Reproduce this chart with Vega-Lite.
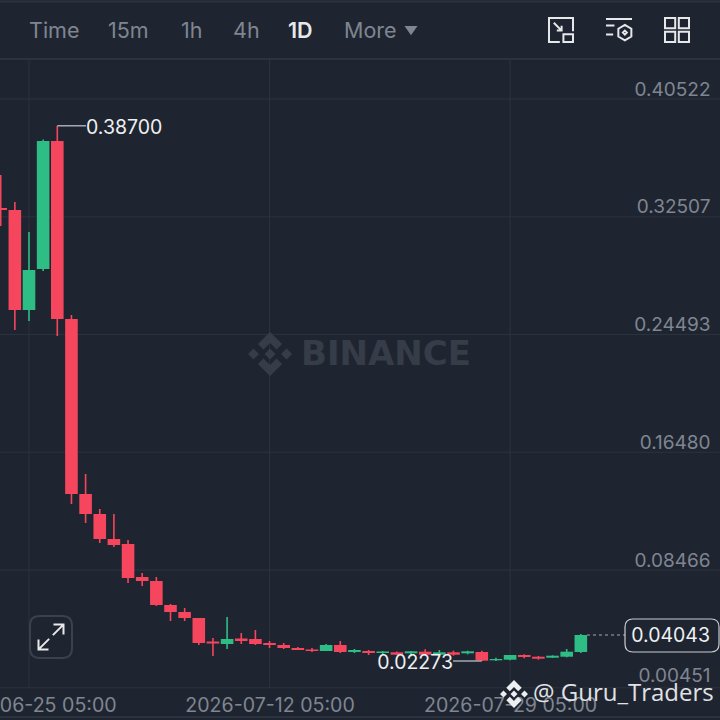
{
  "$schema": "https://vega.github.io/schema/vega-lite/v6.json",
  "width": 720,
  "height": 720,
  "autosize": {"type": "none"},
  "padding": 0,
  "background": "#1f2530",
  "view": {"stroke": null},
  "config": {"text": {"font": "Inter"}, "axis": {"labelFont": "Inter"}},
  "layer": [
    {
      "data": {"values": [{"price": 0.40522}, {"price": 0.32507}, {"price": 0.24493}, {"price": 0.1648}, {"price": 0.08466}, {"price": 0.00451}]},
      "mark": {"type": "rule", "color": "#2c323e", "strokeWidth": 1},
      "encoding": {
        "y": {
          "field": "price",
          "type": "quantitative",
          "scale": {"domain": [-0.01742, 0.4726], "nice": false, "zero": false},
          "axis": {
            "orient": "right",
            "title": null,
            "values": [0.40522, 0.32507, 0.24493, 0.1648, 0.08466, 0.00451],
            "format": ".5f",
            "grid": false,
            "domain": false,
            "ticks": false,
            "labelAlign": "right",
            "labelBaseline": "middle",
            "labelPadding": -10,
            "labelOffset": {"expr": "datum.value < 0.01 ? -12 : -10"},
            "labelColor": "#7f8691",
            "labelFontSize": 19
          }
        }
      }
    },
    {
      "data": {"values": [{"price": 0.43245}, {"price": 0.47158}, {"price": -0.01539}]},
      "mark": {"type": "rule", "color": "#2c323e", "strokeWidth": 2},
      "encoding": {"y": {"field": "price", "type": "quantitative"}}
    },
    {
      "data": {"values": [{"date": "2026-06-25T05:00:00"}, {"date": "2026-07-12T05:00:00"}, {"date": "2026-07-29T05:00:00"}]},
      "mark": {"type": "rule", "color": "#2c323e", "strokeWidth": 1},
      "encoding": {
        "x": {
          "field": "date",
          "type": "temporal",
          "scale": {"domain": [{"year": 2026, "month": 6, "date": 23, "hours": 3, "minutes": 49}, {"year": 2026, "month": 8, "date": 13, "hours": 1, "minutes": 2}], "nice": false, "padding": 0},
          "axis": {
            "orient": "bottom",
            "title": null,
            "values": [{"year": 2026, "month": 6, "date": 25, "hours": 5}, {"year": 2026, "month": 7, "date": 12, "hours": 5}, {"year": 2026, "month": 7, "date": 29, "hours": 5}],
            "format": "%Y-%m-%d %H:%M",
            "grid": false,
            "domain": false,
            "ticks": false,
            "labelFlush": false,
            "labelOverlap": false,
            "labelBound": false,
            "labelBaseline": "middle",
            "labelPadding": -15,
            "labelColor": "#7f8691",
            "labelFontSize": 19.6
          }
        },
        "y": {"datum": 0.00451, "type": "quantitative"},
        "y2": {"datum": 0.43245}
      }
    },
    {
      "data": {"name": "candles", "values": [
        {"date": "2026-06-23T05:00:00", "dir": "down", "open": 0.33104, "high": 0.3535, "low": 0.31879, "close": 0.32968},
        {"date": "2026-06-24T05:00:00", "dir": "down", "open": 0.32968, "high": 0.33512, "low": 0.24801, "close": 0.26162},
        {"date": "2026-06-25T05:00:00", "dir": "up", "open": 0.26162, "high": 0.3147, "low": 0.25413, "close": 0.28884},
        {"date": "2026-06-26T05:00:00", "dir": "up", "open": 0.28952, "high": 0.37766, "low": 0.28816, "close": 0.37664},
        {"date": "2026-06-27T05:00:00", "dir": "down", "open": 0.37664, "high": 0.387, "low": 0.24392, "close": 0.25549},
        {"date": "2026-06-28T05:00:00", "dir": "down", "open": 0.25549, "high": 0.25821, "low": 0.12958, "close": 0.13639},
        {"date": "2026-06-29T05:00:00", "dir": "down", "open": 0.13639, "high": 0.15, "low": 0.11665, "close": 0.12278},
        {"date": "2026-06-30T05:00:00", "dir": "down", "open": 0.12278, "high": 0.12618, "low": 0.10304, "close": 0.10576},
        {"date": "2026-07-01T05:00:00", "dir": "down", "open": 0.10576, "high": 0.12278, "low": 0.10032, "close": 0.10168},
        {"date": "2026-07-02T05:00:00", "dir": "down", "open": 0.10236, "high": 0.10508, "low": 0.07582, "close": 0.07922},
        {"date": "2026-07-03T05:00:00", "dir": "down", "open": 0.0799, "high": 0.08262, "low": 0.07377, "close": 0.07718},
        {"date": "2026-07-04T05:00:00", "dir": "down", "open": 0.07718, "high": 0.0799, "low": 0.06016, "close": 0.06084},
        {"date": "2026-07-05T05:00:00", "dir": "down", "open": 0.06084, "high": 0.06152, "low": 0.04995, "close": 0.05608},
        {"date": "2026-07-06T05:00:00", "dir": "down", "open": 0.05608, "high": 0.0588, "low": 0.04995, "close": 0.052},
        {"date": "2026-07-07T05:00:00", "dir": "down", "open": 0.052, "high": 0.052, "low": 0.03362, "close": 0.03498},
        {"date": "2026-07-08T05:00:00", "dir": "down", "open": 0.036, "high": 0.03838, "low": 0.02613, "close": 0.03464},
        {"date": "2026-07-09T05:00:00", "dir": "up", "open": 0.0343, "high": 0.05268, "low": 0.0309, "close": 0.0377},
        {"date": "2026-07-10T05:00:00", "dir": "down", "open": 0.03804, "high": 0.04179, "low": 0.0343, "close": 0.03634},
        {"date": "2026-07-11T05:00:00", "dir": "down", "open": 0.0377, "high": 0.04383, "low": 0.03362, "close": 0.0343},
        {"date": "2026-07-12T05:00:00", "dir": "down", "open": 0.03498, "high": 0.03634, "low": 0.03158, "close": 0.03362},
        {"date": "2026-07-13T05:00:00", "dir": "down", "open": 0.03362, "high": 0.03498, "low": 0.0309, "close": 0.03158},
        {"date": "2026-07-14T05:00:00", "dir": "down", "open": 0.03158, "high": 0.03226, "low": 0.03022, "close": 0.03022},
        {"date": "2026-07-15T05:00:00", "dir": "down", "open": 0.03056, "high": 0.03158, "low": 0.02886, "close": 0.02954},
        {"date": "2026-07-16T05:00:00", "dir": "up", "open": 0.02954, "high": 0.0343, "low": 0.02954, "close": 0.03362},
        {"date": "2026-07-17T05:00:00", "dir": "down", "open": 0.03362, "high": 0.03634, "low": 0.02817, "close": 0.02886},
        {"date": "2026-07-18T05:00:00", "dir": "up", "open": 0.02886, "high": 0.0309, "low": 0.02817, "close": 0.03022},
        {"date": "2026-07-19T05:00:00", "dir": "down", "open": 0.02954, "high": 0.03022, "low": 0.02681, "close": 0.02817},
        {"date": "2026-07-20T05:00:00", "dir": "up", "open": 0.02817, "high": 0.02954, "low": 0.02681, "close": 0.0292},
        {"date": "2026-07-21T05:00:00", "dir": "down", "open": 0.02865, "high": 0.0292, "low": 0.02681, "close": 0.02702},
        {"date": "2026-07-22T05:00:00", "dir": "up", "open": 0.02797, "high": 0.02954, "low": 0.02579, "close": 0.02933},
        {"date": "2026-07-23T05:00:00", "dir": "down", "open": 0.02906, "high": 0.03069, "low": 0.02661, "close": 0.02702},
        {"date": "2026-07-24T05:00:00", "dir": "up", "open": 0.02702, "high": 0.03022, "low": 0.02661, "close": 0.02865},
        {"date": "2026-07-25T05:00:00", "dir": "down", "open": 0.02865, "high": 0.02974, "low": 0.02634, "close": 0.02702},
        {"date": "2026-07-26T05:00:00", "dir": "up", "open": 0.02797, "high": 0.02974, "low": 0.02729, "close": 0.02933},
        {"date": "2026-07-27T05:00:00", "dir": "down", "open": 0.02886, "high": 0.02974, "low": 0.02273, "close": 0.02294},
        {"date": "2026-07-28T05:00:00", "dir": "up", "open": 0.02321, "high": 0.02498, "low": 0.02273, "close": 0.02409},
        {"date": "2026-07-29T05:00:00", "dir": "up", "open": 0.02361, "high": 0.02681, "low": 0.02321, "close": 0.02681},
        {"date": "2026-07-30T05:00:00", "dir": "down", "open": 0.02681, "high": 0.02729, "low": 0.02457, "close": 0.02545},
        {"date": "2026-07-31T05:00:00", "dir": "down", "open": 0.02565, "high": 0.02613, "low": 0.02361, "close": 0.0243},
        {"date": "2026-08-01T05:00:00", "dir": "up", "open": 0.02498, "high": 0.02661, "low": 0.02477, "close": 0.02634},
        {"date": "2026-08-02T05:00:00", "dir": "up", "open": 0.02565, "high": 0.0309, "low": 0.02524, "close": 0.02906},
        {"date": "2026-08-03T05:00:00", "dir": "up", "open": 0.02886, "high": 0.04111, "low": 0.02817, "close": 0.04043}
      ]},
      "mark": {"type": "rule", "strokeWidth": 1.6},
      "encoding": {
        "x": {"field": "date", "type": "temporal"},
        "y": {"field": "high", "type": "quantitative"},
        "y2": {"field": "low"},
        "color": {"field": "dir", "type": "nominal", "legend": null, "scale": {"domain": ["up", "down"], "range": ["#2ebd85", "#f6465d"]}}
      }
    },
    {
      "data": {"name": "candles"},
      "mark": {"type": "bar", "size": 12.6},
      "encoding": {
        "x": {"field": "date", "type": "temporal"},
        "y": {"field": "open", "type": "quantitative"},
        "y2": {"field": "close"},
        "color": {"field": "dir", "type": "nominal", "legend": null}
      }
    },
    {
      "data": {"values": [
        {"date": "2026-06-27T05:00:00", "end": "2026-06-29T05:41:00", "price": 0.387},
        {"date": "2026-07-25T04:10:00", "end": "2026-07-27T05:00:00", "price": 0.02273}
      ]},
      "mark": {"type": "rule", "color": "#a3a8b0", "strokeWidth": 1.5},
      "encoding": {
        "x": {"field": "date", "type": "temporal"},
        "x2": {"field": "end"},
        "y": {"field": "price", "type": "quantitative"}
      }
    },
    {
      "data": {"values": [{"date": "2026-08-03T15:28:00", "end": "2026-08-06T07:55:00", "price": 0.04043}]},
      "mark": {"type": "rule", "color": "#a3a8b0", "strokeWidth": 1.2, "strokeDash": [3, 3]},
      "encoding": {
        "x": {"field": "date", "type": "temporal"},
        "x2": {"field": "end"},
        "y": {"field": "price", "type": "quantitative"}
      }
    },
    {
      "data": {"values": [{"date": "2026-06-29T05:41:00", "price": 0.387, "label": "0.38700"}]},
      "mark": {"type": "text", "align": "left", "baseline": "middle", "dy": 2, "fontSize": 19.5, "color": "#eef0f2"},
      "encoding": {
        "x": {"field": "date", "type": "temporal"},
        "y": {"field": "price", "type": "quantitative"},
        "text": {"field": "label"}
      }
    },
    {
      "data": {"values": [{"date": "2026-07-25T04:10:00", "price": 0.02273, "label": "0.02273"}]},
      "mark": {"type": "text", "align": "right", "baseline": "middle", "dy": 2, "fontSize": 19.5, "color": "#eef0f2"},
      "encoding": {
        "x": {"field": "date", "type": "temporal"},
        "y": {"field": "price", "type": "quantitative"},
        "text": {"field": "label"}
      }
    },
    {
      "data": {"values": [{"date": "2026-08-09T15:38:00", "price": 0.0401}]},
      "mark": {"type": "point", "shape": "M-.83,-.351 H.83 Q1,-.351 1,-.181 V.181 Q1,.351 .83,.351 H-.83 Q-1,.351 -1,.181 V-.181 Q-1,-.351 -.83,-.351 Z", "size": 8836, "filled": true, "fill": "#1f2530", "stroke": "#c9ccd1", "strokeWidth": 1.2, "opacity": 1},
      "encoding": {
        "x": {"field": "date", "type": "temporal"},
        "y": {"field": "price", "type": "quantitative"}
      }
    },
    {
      "data": {"values": [{"date": "2026-08-12T08:05:00", "price": 0.0401, "label": "0.04043"}]},
      "mark": {"type": "text", "align": "right", "baseline": "middle", "dy": 1, "fontSize": 19.5, "color": "#eef0f2"},
      "encoding": {
        "x": {"field": "date", "type": "temporal"},
        "y": {"field": "price", "type": "quantitative"},
        "text": {"field": "label"}
      }
    },
    {
      "data": {"values": [
        {"date": "2026-06-25T05:00:00", "price": 0.45218, "label": "Time"},
        {"date": "2026-06-30T19:00:00", "price": 0.45218, "label": "15m"},
        {"date": "2026-07-05T22:49:00", "price": 0.45218, "label": "1h"},
        {"date": "2026-07-09T15:01:00", "price": 0.45218, "label": "4h"},
        {"date": "2026-07-17T11:18:00", "price": 0.45218, "label": "More"}
      ]},
      "mark": {"type": "text", "align": "left", "baseline": "middle", "dy": 2, "fontSize": 21.5, "color": "#7f8691"},
      "encoding": {
        "x": {"field": "date", "type": "temporal"},
        "y": {"field": "price", "type": "quantitative"},
        "text": {"field": "label"}
      }
    },
    {
      "data": {"values": [{"date": "2026-07-13T12:18:00", "price": 0.45218, "label": "1D"}]},
      "mark": {"type": "text", "align": "left", "baseline": "middle", "dy": 2, "fontSize": 21.5, "fontWeight": 600, "color": "#e6e8ea"},
      "encoding": {
        "x": {"field": "date", "type": "temporal"},
        "y": {"field": "price", "type": "quantitative"},
        "text": {"field": "label"}
      }
    },
    {
      "data": {"values": [{"date": "2026-07-22T04:56:00", "price": 0.45218}]},
      "mark": {"type": "point", "shape": "M-1,-.6 H1 L0,.8 Z", "size": 169, "filled": true, "color": "#7f8691", "opacity": 1},
      "encoding": {
        "x": {"field": "date", "type": "temporal"},
        "y": {"field": "price", "type": "quantitative"}
      }
    },
    {
      "data": {"values": [{"date": "2026-08-01T19:22:00", "price": 0.45218}]},
      "mark": {"type": "point", "shape": "M-.1,1 H-1 V-1 H1 V.1 M.2,.35 H1 V1 H.2 Z M-.6,-.6 L.05,.05 M.05,-.35 V.05 H-.35", "size": 576, "filled": false, "stroke": "#e6e8ea", "strokeWidth": 2, "opacity": 1},
      "encoding": {
        "x": {"field": "date", "type": "temporal"},
        "y": {"field": "price", "type": "quantitative"}
      }
    },
    {
      "data": {"values": [{"date": "2026-08-05T21:44:00", "price": 0.45218}]},
      "mark": {"type": "point", "shape": "M-1,-.85 H1 M-1,-.35 H-.35 M-1,.35 H-.45 M.45,-.4 L.95,-.1 V.5 L.45,.8 L-.05,.5 V-.1 Z M.45,.05 L.6,.2 L.45,.35 L.3,.2 Z", "size": 676, "filled": false, "stroke": "#e6e8ea", "strokeWidth": 2, "opacity": 1},
      "encoding": {
        "x": {"field": "date", "type": "temporal"},
        "y": {"field": "price", "type": "quantitative"}
      }
    },
    {
      "data": {"values": [{"date": "2026-08-10T00:07:00", "price": 0.45218}]},
      "mark": {"type": "point", "shape": "M-1,-1 H-.15 V-.15 H-1 Z M.15,-1 H1 V-.15 H.15 Z M-1,.15 H-.15 V1 H-1 Z M.15,.15 H1 V1 H.15 Z", "size": 576, "filled": false, "stroke": "#e6e8ea", "strokeWidth": 2, "opacity": 1},
      "encoding": {
        "x": {"field": "date", "type": "temporal"},
        "y": {"field": "price", "type": "quantitative"}
      }
    },
    {
      "data": {"values": [{"date": "2026-06-26T18:19:00", "price": 0.03906}]},
      "mark": {"type": "point", "shape": "M-.55,-1 H.55 Q1,-1 1,-.55 V.55 Q1,1 .55,1 H-.55 Q-1,1 -1,.55 V-.55 Q-1,-1 -.55,-1 Z", "size": 1764, "filled": false, "stroke": "#3b414d", "strokeWidth": 2, "opacity": 1},
      "encoding": {
        "x": {"field": "date", "type": "temporal"},
        "y": {"field": "price", "type": "quantitative"}
      }
    },
    {
      "data": {"values": [{"date": "2026-06-26T18:19:00", "price": 0.03906}]},
      "mark": {"type": "point", "shape": "M.15,-.15 L.95,-.95 M.2,-1 H1 V-.2 M-.15,.15 L-.95,.95 M-1,.2 V1 H-.2", "size": 625, "filled": false, "stroke": "#e6e8ea", "strokeWidth": 2, "opacity": 1},
      "encoding": {
        "x": {"field": "date", "type": "temporal"},
        "y": {"field": "price", "type": "quantitative"}
      }
    },
    {
      "data": {"values": [{"date": "2026-07-12T05:47:00", "price": 0.23167}]},
      "mark": {"type": "point", "shape": "M0,-1 L.55,-.45 L.3,-.2 L0,-.5 L-.3,-.2 L-.55,-.45 Z M0,1 L.55,.45 L.3,.2 L0,.5 L-.3,.2 L-.55,.45 Z M-1,0 L-.75,-.25 L-.5,0 L-.75,.25 Z M1,0 L.75,-.25 L.5,0 L.75,.25 Z M0,-.25 L.25,0 L0,.25 L-.25,0 Z", "size": 1936, "filled": true, "color": "#363c48", "opacity": 1},
      "encoding": {
        "x": {"field": "date", "type": "temporal"},
        "y": {"field": "price", "type": "quantitative"}
      }
    },
    {
      "data": {"values": [{"date": "2026-07-14T10:21:00", "price": 0.23167, "label": "BINANCE"}]},
      "mark": {"type": "text", "align": "left", "baseline": "middle", "dy": 1, "font": "DejaVu Sans", "fontSize": 34, "fontWeight": "bold", "color": "#363c48"},
      "encoding": {
        "x": {"field": "date", "type": "temporal"},
        "y": {"field": "price", "type": "quantitative"},
        "text": {"field": "label"}
      }
    },
    {
      "data": {"values": [{"date": "2026-07-29T11:38:00", "price": 0.00027}]},
      "mark": {"type": "point", "shape": "M0,-1 L.55,-.45 L.3,-.2 L0,-.5 L-.3,-.2 L-.55,-.45 Z M0,1 L.55,.45 L.3,.2 L0,.5 L-.3,.2 L-.55,.45 Z M-1,0 L-.75,-.25 L-.5,0 L-.75,.25 Z M1,0 L.75,-.25 L.5,0 L.75,.25 Z M0,-.25 L.25,0 L0,.25 L-.25,0 Z", "size": 784, "filled": true, "color": "#eceef0", "opacity": 1},
      "encoding": {
        "x": {"field": "date", "type": "temporal"},
        "y": {"field": "price", "type": "quantitative"}
      }
    },
    {
      "data": {"values": [{"date": "2026-07-30T19:52:00", "price": 0.00027, "label": "@ Guru_Traders"}]},
      "mark": {"type": "text", "align": "left", "baseline": "middle", "font": "Open Sans", "fontSize": 24, "color": "#e0e2e5"},
      "encoding": {
        "x": {"field": "date", "type": "temporal"},
        "y": {"field": "price", "type": "quantitative"},
        "text": {"field": "label"}
      }
    }
  ]
}
